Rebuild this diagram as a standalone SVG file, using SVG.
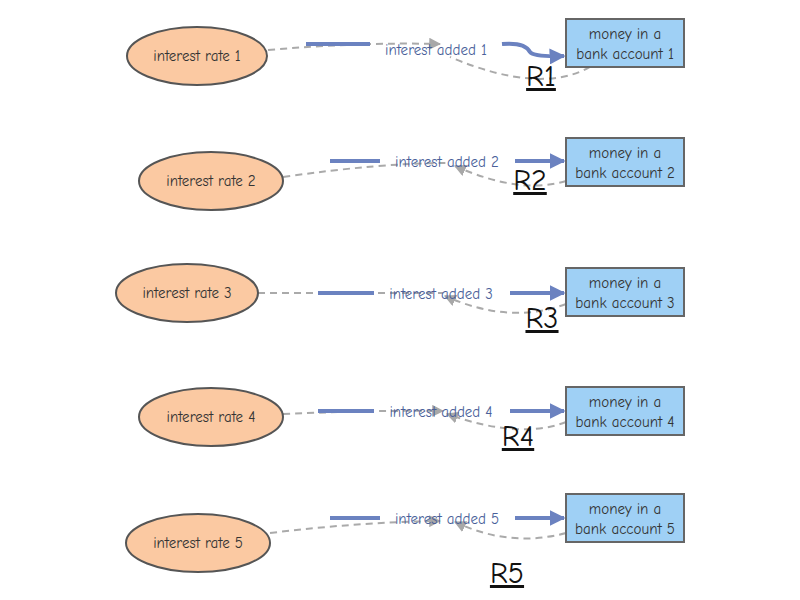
<svg xmlns="http://www.w3.org/2000/svg" width="800" height="600" viewBox="0 0 800 600">
<defs>
<marker id="ab" viewBox="0 0 10 10" refX="9" refY="5" markerWidth="4" markerHeight="4" orient="auto"><path d="M0,0L10,5L0,10z" fill="#6b82c0"/></marker>
<marker id="ag" viewBox="0 0 10 10" refX="9" refY="5" markerWidth="6" markerHeight="6" orient="auto"><path d="M0,0L10,5L0,10z" fill="#a8a8a8"/></marker>
</defs>
<style>
text{font-family:"Comic Neue","Liberation Sans",sans-serif}
.el{fill:#fbc9a2;stroke:#555;stroke-width:2}
.bx{fill:#9fd0f5;stroke:#666;stroke-width:2}
.t{font-size:15px;fill:#333;text-anchor:middle}
.fl{font-size:15px;fill:#4a5f9a;text-anchor:middle}
.f{fill:none;stroke:#6b82c0;stroke-width:4}
.d{fill:none;stroke:#aaa;stroke-width:2;stroke-dasharray:7,5}
.r{font-size:30px;fill:#111;text-anchor:middle;text-decoration:underline}
</style>
<g id="connectors">
<path class="d" d="M268,50 Q360,42 440,44" marker-end="url(#ag)"/>
<path class="d" d="M590,67 Q540,95 450,57"/>
<path class="f" d="M306,44 H370"/>
<path class="f" d="M502,44 Q525,42 530,52 Q534,57 564,56" marker-end="url(#ab)"/>
<path class="d" d="M283,177 Q380,163 447,163"/>
<path class="d" d="M566,181 Q520,195 455,166" marker-end="url(#ag)"/>
<path class="f" d="M330,161 H380 M515,161 H564" marker-end="url(#ab)"/>
<path class="d" d="M258,293 H443"/>
<path class="d" d="M566,304 Q510,325 445,296" marker-end="url(#ag)"/>
<path class="f" d="M318,293 H374 M510,293 H564" marker-end="url(#ab)"/>
<path class="d" d="M283,414 Q380,410 443,411" marker-end="url(#ag)"/>
<path class="d" d="M566,422 Q520,440 447,414" marker-end="url(#ag)"/>
<path class="f" d="M318,411 H374 M510,411 H564" marker-end="url(#ab)"/>
<path class="d" d="M270,533 Q360,522 440,521" marker-end="url(#ag)"/>
<path class="d" d="M566,533 Q510,548 455,522" marker-end="url(#ag)"/>
<path class="f" d="M330,518 H380 M515,518 H564" marker-end="url(#ab)"/>
</g>
<g id="labels">
<text class="fl" x="436" y="55">interest added 1</text>
<text class="fl" x="447" y="167">interest added 2</text>
<text class="fl" x="441" y="299">interest added 3</text>
<text class="fl" x="441" y="417">interest added 4</text>
<text class="fl" x="447" y="524">interest added 5</text>
<text class="r" x="541" y="86">R1</text>
<text class="r" x="530" y="190">R2</text>
<text class="r" x="542" y="328">R3</text>
<text class="r" x="518" y="446">R4</text>
<text class="r" x="507" y="583">R5</text>
</g>
<g id="rate1"><ellipse class="el" cx="197" cy="56" rx="70" ry="29"/><text class="t" x="197" y="61">interest rate 1</text></g>
<g id="rate2"><ellipse class="el" cx="211" cy="181" rx="72" ry="29"/><text class="t" x="211" y="186">interest rate 2</text></g>
<g id="rate3"><ellipse class="el" cx="187" cy="293" rx="71" ry="29"/><text class="t" x="187" y="298">interest rate 3</text></g>
<g id="rate4"><ellipse class="el" cx="211" cy="417" rx="72" ry="29"/><text class="t" x="211" y="422">interest rate 4</text></g>
<g id="rate5"><ellipse class="el" cx="198" cy="543" rx="72" ry="29"/><text class="t" x="198" y="548">interest rate 5</text></g>
<g id="bank1"><rect class="bx" x="566" y="19" width="118" height="48"/><text class="t" x="625" y="39">money in a</text><text class="t" x="625" y="59">bank account 1</text></g>
<g id="bank2"><rect class="bx" x="566" y="138" width="118" height="48"/><text class="t" x="625" y="158">money in a</text><text class="t" x="625" y="178">bank account 2</text></g>
<g id="bank3"><rect class="bx" x="566" y="268" width="118" height="48"/><text class="t" x="625" y="288">money in a</text><text class="t" x="625" y="308">bank account 3</text></g>
<g id="bank4"><rect class="bx" x="566" y="387" width="118" height="48"/><text class="t" x="625" y="407">money in a</text><text class="t" x="625" y="427">bank account 4</text></g>
<g id="bank5"><rect class="bx" x="566" y="494" width="118" height="48"/><text class="t" x="625" y="514">money in a</text><text class="t" x="625" y="534">bank account 5</text></g>
</svg>
